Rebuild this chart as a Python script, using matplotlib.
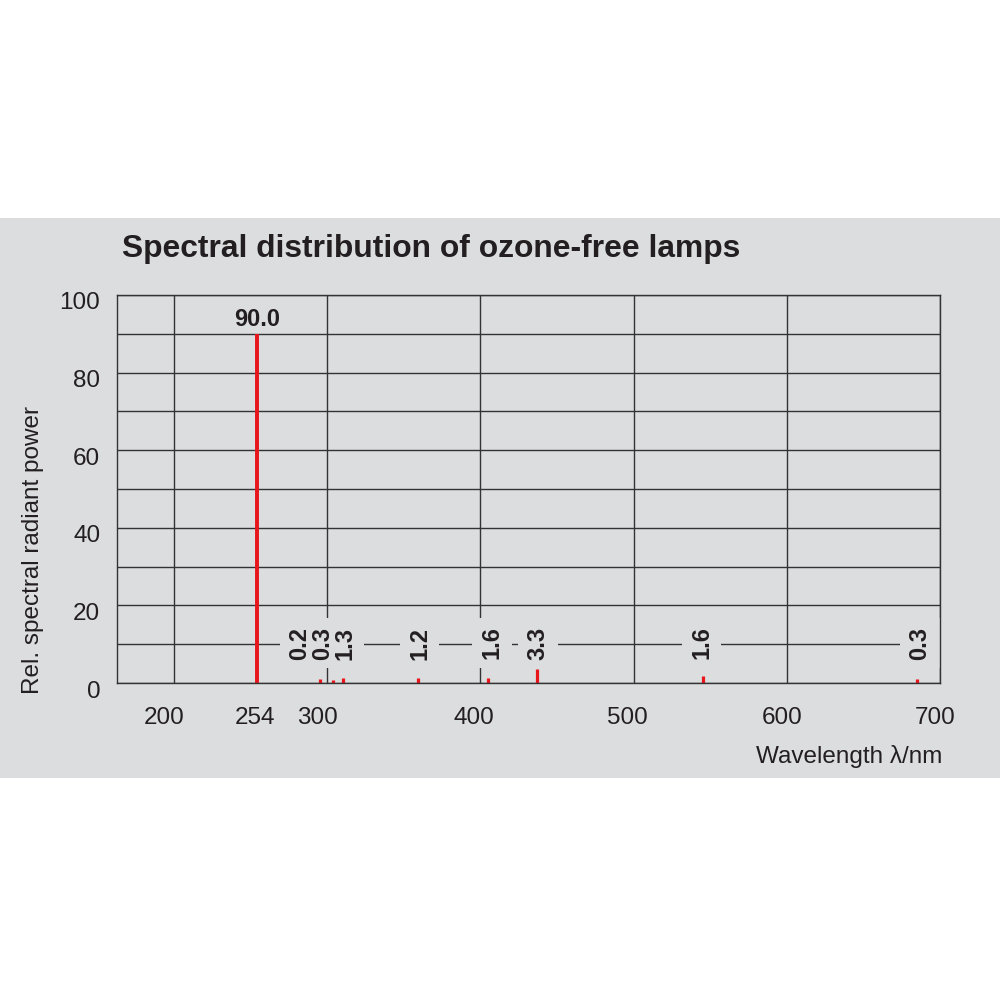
import matplotlib
matplotlib.use('Agg')
import matplotlib.pyplot as plt
from matplotlib.patches import Rectangle
from matplotlib.transforms import ScaledTranslation

# emission lines (nm), labelled value, drawn height
wavelengths = [254, 295, 304, 310, 359, 405, 437, 545, 685]
values = [90.0, 0.2, 0.3, 1.3, 1.2, 1.6, 3.3, 1.6, 0.3]
heights = [90.0, 1.0, 0.8, 1.2, 1.2, 1.2, 3.6, 1.8, 1.0]
label_dx = [0, -20, -11, 2, 2, 4, 1, -1, 3]  # px shift of the small labels

x_ticks = [200, 300, 400, 500, 600, 700]
x_tick_dx = [-10, -10, -7, -6, -5, -5]
y_ticks = [0, 20, 40, 60, 80, 100]

GRAY = '#dcdddf'
INK = '#231f20'
RED = '#e8151b'
FS = 17.5

plt.rcParams['font.family'] = ['Liberation Sans', 'DejaVu Sans']

fig = plt.figure(figsize=(10, 10), dpi=100)
fig.patch.set_facecolor('white')
fig.patches.append(Rectangle((0, 0.222), 1, 0.560, transform=fig.transFigure,
                             facecolor=GRAY, edgecolor='none', zorder=-10))

ax = fig.add_axes([0.117, 0.317, 0.823, 0.388])
ax.set_facecolor(GRAY)
ax.set_xlim(162.8, 700)
ax.set_ylim(0, 100)

# grid
ax.set_xticks(x_ticks)
ax.set_xticklabels([str(t) for t in x_ticks])
ax.set_xticks([254], minor=True)
ax.set_xticklabels(['254'], minor=True)
ax.set_yticks(y_ticks)
ax.set_yticks([10, 30, 50, 70, 90], minor=True)
ax.grid(True, which='major', axis='x', color='#333333', linewidth=1)
ax.grid(True, which='both', axis='y', color='#333333', linewidth=1)
ax.set_axisbelow(True)
ax.tick_params(which='both', length=0, labelsize=FS, colors=INK)
ax.tick_params(axis='x', which='both', pad=17)
ax.tick_params(axis='y', pad=12)
for sp in ax.spines.values():
    sp.set_color('#333333')
    sp.set_linewidth(1)
    sp.set_zorder(5)

for lab, dx in zip(ax.get_xticklabels(), x_tick_dx):
    lab.set_transform(lab.get_transform() + ScaledTranslation(dx / 100, 0, fig.dpi_scale_trans))
for lab in ax.get_xticklabels(minor=True):
    lab.set_transform(lab.get_transform() + ScaledTranslation(-2 / 100, 0, fig.dpi_scale_trans))
for lab in ax.get_yticklabels():
    lab.set_transform(lab.get_transform() + ScaledTranslation(0, -6 / 100, fig.dpi_scale_trans))

# spectral lines
ax.vlines(wavelengths[:1], 0, heights[:1], color=RED, linewidth=2.8, zorder=3)
ax.vlines(wavelengths[1:], 0, heights[1:], color=RED, linewidth=2.3, zorder=3)

# labels
ax.annotate(f'{values[0]:.1f}', xy=(wavelengths[0], heights[0]), xytext=(0, 2),
            textcoords='offset points', ha='center', va='bottom',
            fontsize=17, fontweight='bold', color=INK)
for wl, v, dx in zip(wavelengths[1:], values[1:], label_dx[1:]):
    kw = dict(xy=(wl, 10.3), xytext=(dx * 0.72, 0), textcoords='offset points',
              ha='center', va='center', rotation=90, fontsize=17, fontweight='bold')
    # gray box first (hides grid), then the text on top
    ax.annotate(f'{v:.1f}', color=GRAY, zorder=3.5,
                bbox=dict(boxstyle='square,pad=0.35', facecolor=GRAY, edgecolor='none'), **kw)
    ax.annotate(f'{v:.1f}', color=INK, zorder=4, **kw)

fig.text(0.122, 0.743, 'Spectral distribution of ozone-free lamps', fontsize=22.9,
         fontweight='bold', color=INK, ha='left', va='baseline')
fig.text(0.033, 0.45, 'Rel. spectral radiant power', rotation=90, fontsize=FS,
         color=INK, ha='center', va='center')
fig.text(0.942, 0.244, 'Wavelength \u03bb/nm', fontsize=FS, color=INK,
         ha='right', va='center')

fig.savefig('out.png', dpi=100)
